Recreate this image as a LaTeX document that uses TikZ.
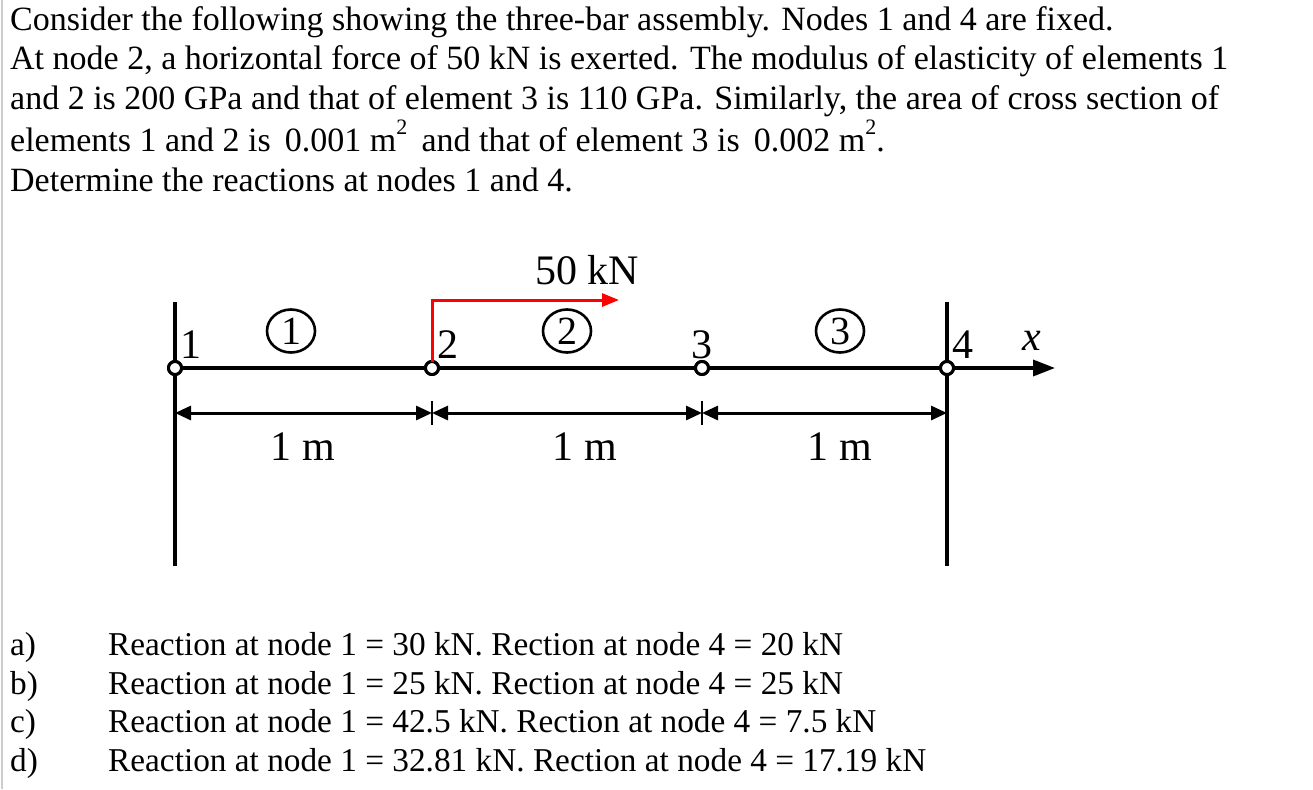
\documentclass[tikz,border=0pt]{standalone}
\usepackage{fontspec}
\setmainfont{Liberation Serif}
\usetikzlibrary{arrows.meta,shapes.geometric}
\newcommand{\sqsup}{\raisebox{0.5em}{\fontsize{22}{22}\selectfont 2}}
\begin{document}
\begin{tikzpicture}[x=1pt,y=-1pt,
  txt/.style={anchor=base west,inner sep=0pt,font=\fontsize{34}{40}\selectfont},
  opt/.style={anchor=base west,inner sep=0pt,font=\fontsize{33.3}{40}\selectfont},
  lbl/.style={inner sep=0pt,font=\fontsize{42}{46}\selectfont},
  nd/.style={circle,draw,line width=3pt,fill=white,minimum size=13pt,inner sep=0pt},
  el/.style={ellipse,draw,line width=2.6pt,minimum width=48pt,minimum height=43pt,inner sep=0pt,font=\fontsize{40}{40}\selectfont},
  bar/.style={line width=3.5pt},
  dim/.style={line width=3pt,{Triangle[length=16pt,width=14pt]}-{Triangle[length=16pt,width=14pt]}}]
\useasboundingbox (0,0) rectangle (1313,789);
\fill[white] (0,0) rectangle (1313,789);
\draw[gray!40,line width=2pt] (2,0) -- (2,789);
\node[txt] (t1) at (10,31) {Consider the following showing the three-bar assembly. Nodes 1 and 4 are fixed.};
\node[txt] (t2) at (10,70) {At node 2, a horizontal force of 50 kN is exerted. The modulus of elasticity of elements 1};
\node[txt] (t3) at (10,110) {and 2 is 200 GPa and that of element 3 is 110 GPa. Similarly, the area of cross section of};
\node[txt] (t4) at (10,151) {elements 1 and 2 is\, 0.001 m\sqsup\, and that of element 3 is\, 0.002 m\sqsup.};
\node[txt] (t5) at (10,191) {Determine the reactions at nodes 1 and 4.};
% walls
\draw[bar] (175,302) -- (175,566);
\draw[bar] (947,302) -- (947,566);
% bar
\coordinate (xe) at (1055,368);
\node[nd] (n1) at (175,368) {};
\node[nd] (n2) at (432,368) {};
\node[nd] (n3) at (702,368) {};
\node[nd] (n4) at (947,368) {};
\draw[bar] (n1) -- (n2);
\draw[bar] (n2) -- (n3);
\draw[bar] (n3) -- (n4);
\draw[bar,-{Triangle[length=22pt,width=16pt]}] (n4) -- (xe);
\node[nd] at (175,368) {};\node[nd] at (432,368) {};\node[nd] at (702,368) {};\node[nd] at (947,368) {};
\node[lbl,anchor=base west] (l1) at (180,358) {1};
\node[lbl,anchor=base west] (l2) at (437,358) {2};
\node[lbl,anchor=base] (l3) at (702,358) {3};
\node[lbl,anchor=base west] (l4) at (952,358) {4};
\node[lbl,anchor=base] (lx) at (1032,350) {\itshape x};
\node[el] (e1) at (291,331) {1};
\node[el] (e2) at (567,331) {2};
\node[el] (e3) at (840,331) {3};
% force
\coordinate (fe) at (619,300);
\draw[red,line width=3pt,-{Triangle[length=17pt,width=13pt]}] (432,362) -- (432,300) -- (fe);
\node[lbl,anchor=base] (f) at (587,284) {50 kN};
% dims
\coordinate (d1) at (175,413);\coordinate (d2) at (432,413);\coordinate (d3) at (702,413);\coordinate (d4) at (947,413);
\draw[dim] (d1) -- (d2);
\draw[dim] (d2) -- (d3);
\draw[dim] (d3) -- (d4);
\draw[line width=2pt] (432,401) -- (432,425);
\draw[line width=2pt] (702,401) -- (702,425);
\node[lbl,anchor=base] (m1) at (303,460) {1 m};
\node[lbl,anchor=base] (m2) at (585,460) {1 m};
\node[lbl,anchor=base] (m3) at (840,460) {1 m};
% options
\node[opt] (oa) at (10,655) {a)};
\node[opt] (ob) at (10,694) {b)};
\node[opt] (oc) at (10,732) {c)};
\node[opt] (od) at (10,771) {d)};
\node[opt] (ta) at (108,655) {Reaction at node 1 = 30 kN. Rection at node 4 = 20 kN};
\node[opt] (tb) at (108,694) {Reaction at node 1 = 25 kN. Rection at node 4 = 25 kN};
\node[opt] (tc) at (108,732) {Reaction at node 1 = 42.5 kN. Rection at node 4 = 7.5 kN};
\node[opt] (td) at (108,771) {Reaction at node 1 = 32.81 kN. Rection at node 4 = 17.19 kN};
\end{tikzpicture}
\end{document}
